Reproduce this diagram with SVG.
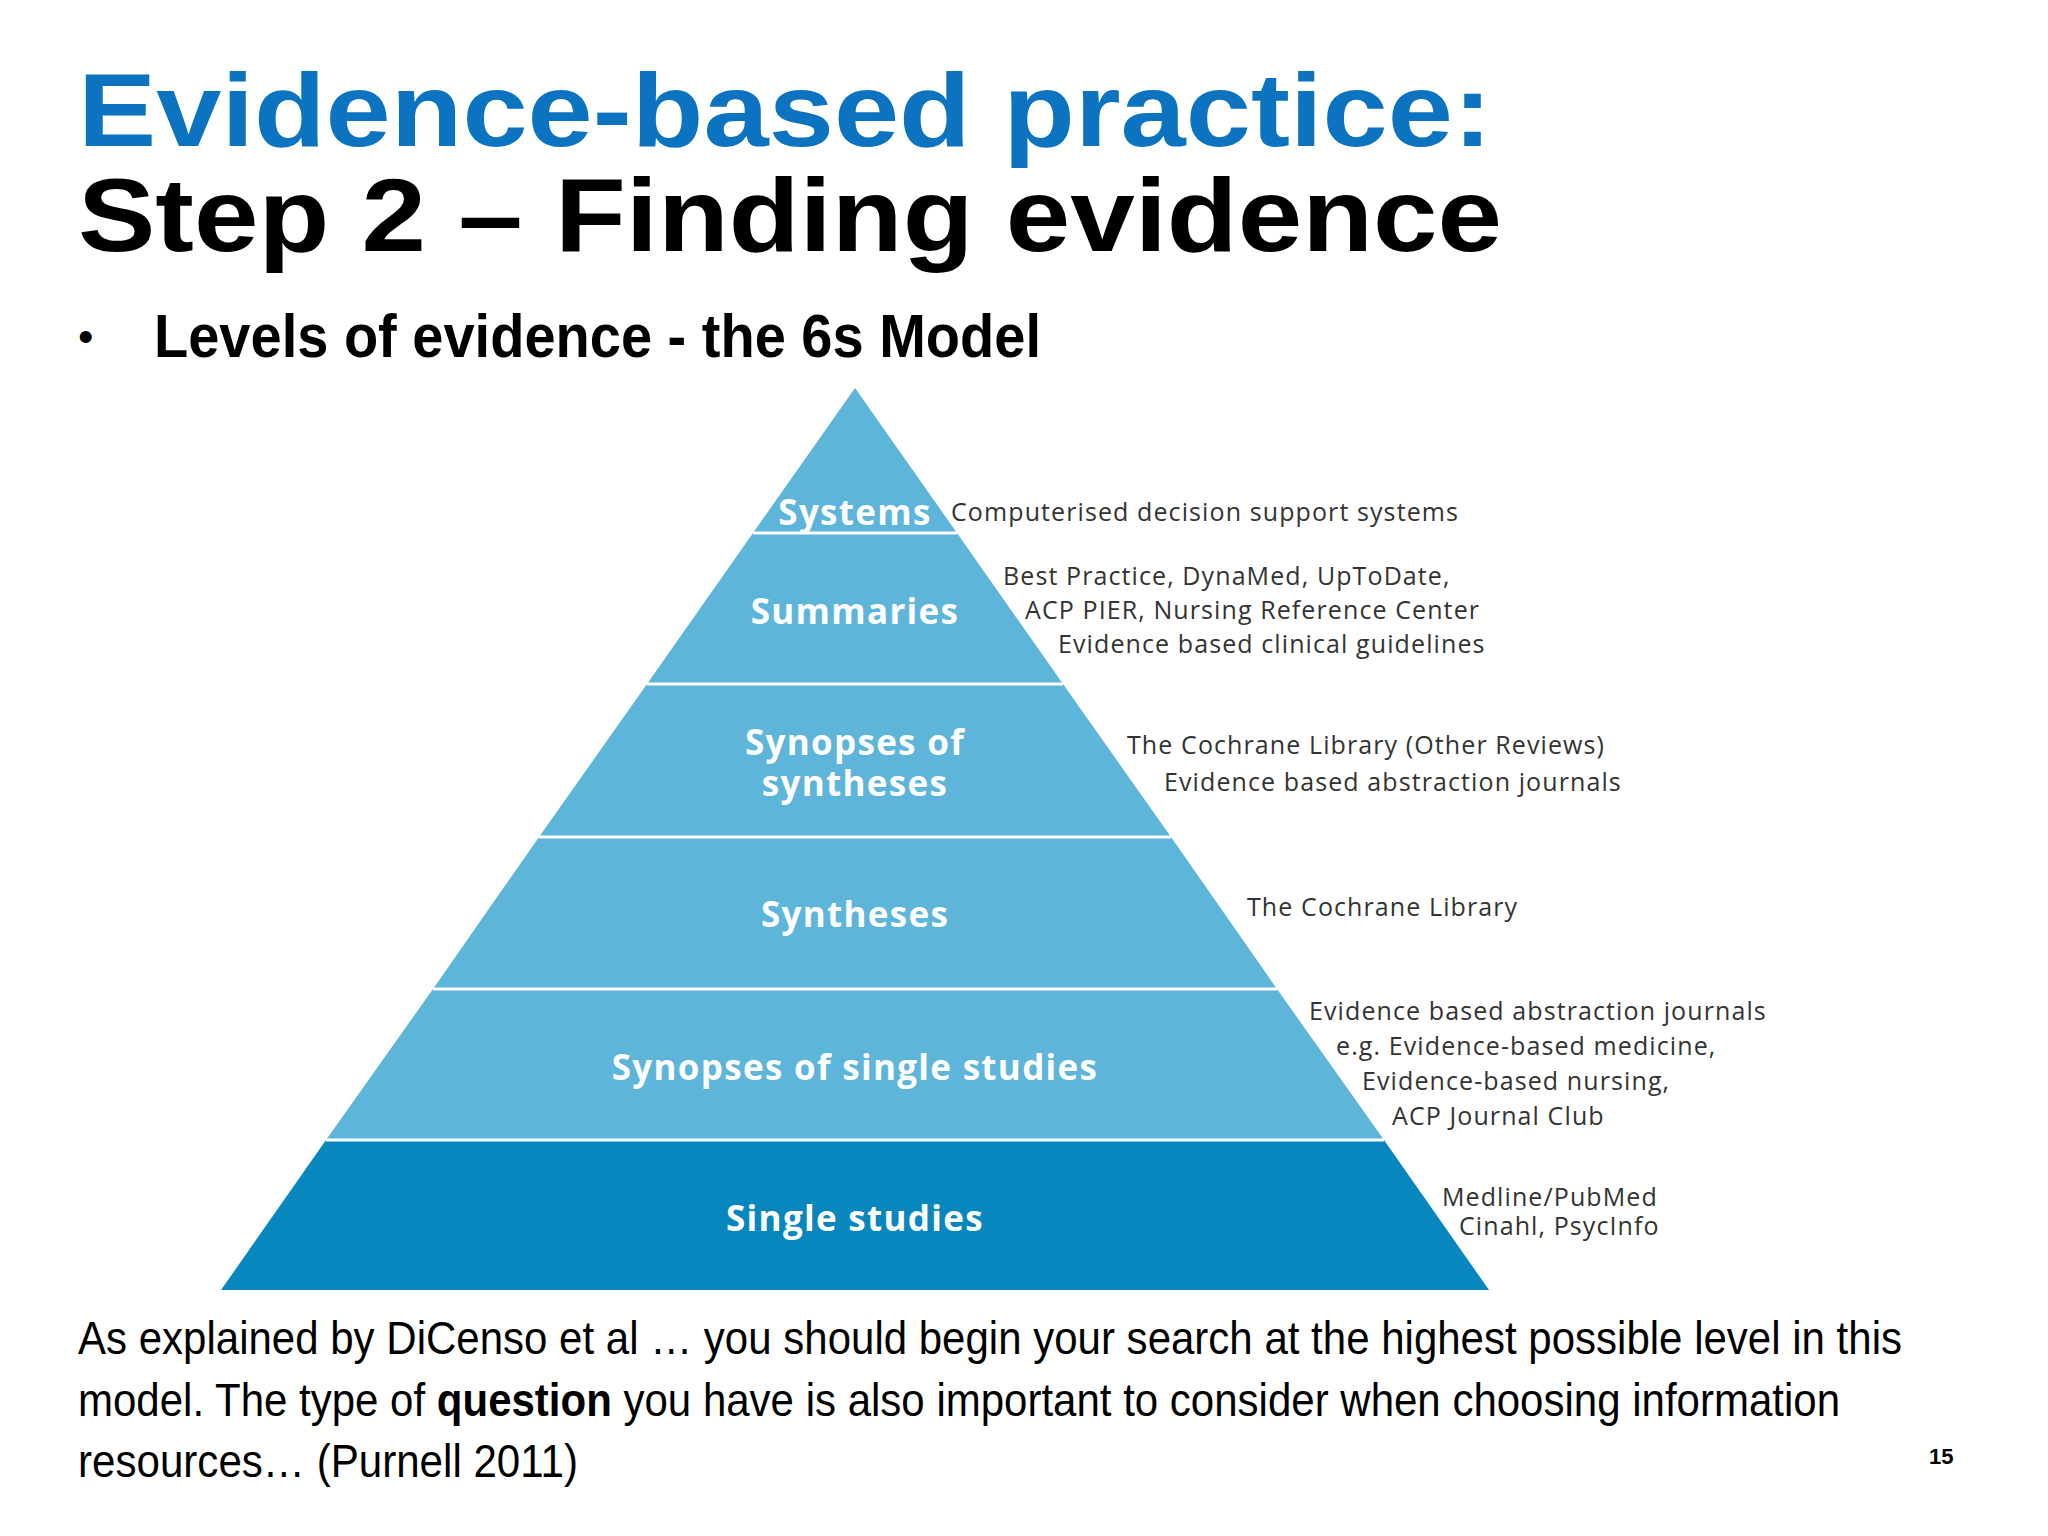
<svg xmlns="http://www.w3.org/2000/svg" width="2048" height="1536" viewBox="0 0 2048 1536">
<style>
.t{font-family:"Liberation Sans",Arial,sans-serif;font-weight:bold}
.n{font-family:"Liberation Sans Narrow","Liberation Sans",Arial,sans-serif}
.pl{font-family:"Open Sans","Liberation Sans",sans-serif;font-weight:bold;font-size:35px;letter-spacing:1.3px;fill:#fff;text-anchor:middle;dominant-baseline:central}
.rl{font-family:"Open Sans","Liberation Sans",sans-serif;font-size:25px;letter-spacing:1.1px;fill:#333;dominant-baseline:central}
.band{fill:#5db5d9}
.sep{stroke:#fff;stroke-width:3}
</style>
<rect width="2048" height="1536" fill="#fff"/>
<text class="t" x="78" y="146" font-size="104" fill="#0b73c0" textLength="1414" lengthAdjust="spacingAndGlyphs">Evidence-based practice:</text>
<text class="t" x="78" y="251" font-size="104" fill="#000" textLength="1424" lengthAdjust="spacingAndGlyphs">Step 2 – Finding evidence</text>
<text class="n" x="78" y="352" font-size="44" fill="#000">•</text>
<text class="n" x="154" y="357" font-size="62" font-weight="bold" fill="#000" textLength="887" lengthAdjust="spacingAndGlyphs">Levels of evidence - the 6s Model</text>
<g id="pyramid">
<polygon id="systems" class="band" points="855,388 957,533 753,533"/>
<polygon id="summaries" class="band" points="753,533 957,533 1063,684 647,684"/>
<polygon id="synopses-syn" class="band" points="647,684 1063,684 1171,837 539,837"/>
<polygon id="syntheses" class="band" points="539,837 1171,837 1277,989 433,989"/>
<polygon id="synopses-single" class="band" points="433,989 1277,989 1384,1140 326,1140"/>
<polygon id="single" fill="#0787bd" points="326,1140 1384,1140 1489,1290 221,1290"/>
<line class="sep" x1="753" y1="533" x2="957" y2="533"/>
<line class="sep" x1="647" y1="684" x2="1063" y2="684"/>
<line class="sep" x1="539" y1="837" x2="1171" y2="837"/>
<line class="sep" x1="433" y1="989" x2="1277" y2="989"/>
<line class="sep" x1="326" y1="1140" x2="1384" y2="1140"/>
<text class="pl" x="855" y="511">Systems</text>
<text class="pl" x="855" y="610">Summaries</text>
<text class="pl" x="855" y="741">Synopses of</text>
<text class="pl" x="855" y="782">syntheses</text>
<text class="pl" x="855" y="913">Syntheses</text>
<text class="pl" x="855" y="1066">Synopses of single studies</text>
<text class="pl" x="855" y="1217">Single studies</text>
</g>
<g id="labels">
<text class="rl" x="951" y="511">Computerised decision support systems</text>
<text class="rl" x="1003" y="575">Best Practice, DynaMed, UpToDate,</text>
<text class="rl" x="1025" y="609">ACP PIER, Nursing Reference Center</text>
<text class="rl" x="1058" y="643">Evidence based clinical guidelines</text>
<text class="rl" x="1127" y="744">The Cochrane Library (Other Reviews)</text>
<text class="rl" x="1164" y="781">Evidence based abstraction journals</text>
<text class="rl" x="1247" y="906">The Cochrane Library</text>
<text class="rl" x="1309" y="1010">Evidence based abstraction journals</text>
<text class="rl" x="1336" y="1045">e.g. Evidence-based medicine,</text>
<text class="rl" x="1362" y="1080">Evidence-based nursing,</text>
<text class="rl" x="1392" y="1115">ACP Journal Club</text>
<text class="rl" x="1442" y="1196">Medline/PubMed</text>
<text class="rl" x="1459" y="1225">Cinahl, PsycInfo</text>
</g>
<g class="n" font-size="47" fill="#000">
<text x="78" y="1354" textLength="1824" lengthAdjust="spacingAndGlyphs">As explained by DiCenso et al … you should begin your search at the highest possible level in this</text>
<text x="78" y="1416" textLength="1762" lengthAdjust="spacingAndGlyphs">model. The type of <tspan font-weight="bold">question</tspan> you have is also important to consider when choosing information</text>
<text x="78" y="1477" textLength="500" lengthAdjust="spacingAndGlyphs">resources… (Purnell 2011)</text>
</g>
<text class="t" x="1929" y="1464" font-size="22" fill="#000">15</text>
</svg>
